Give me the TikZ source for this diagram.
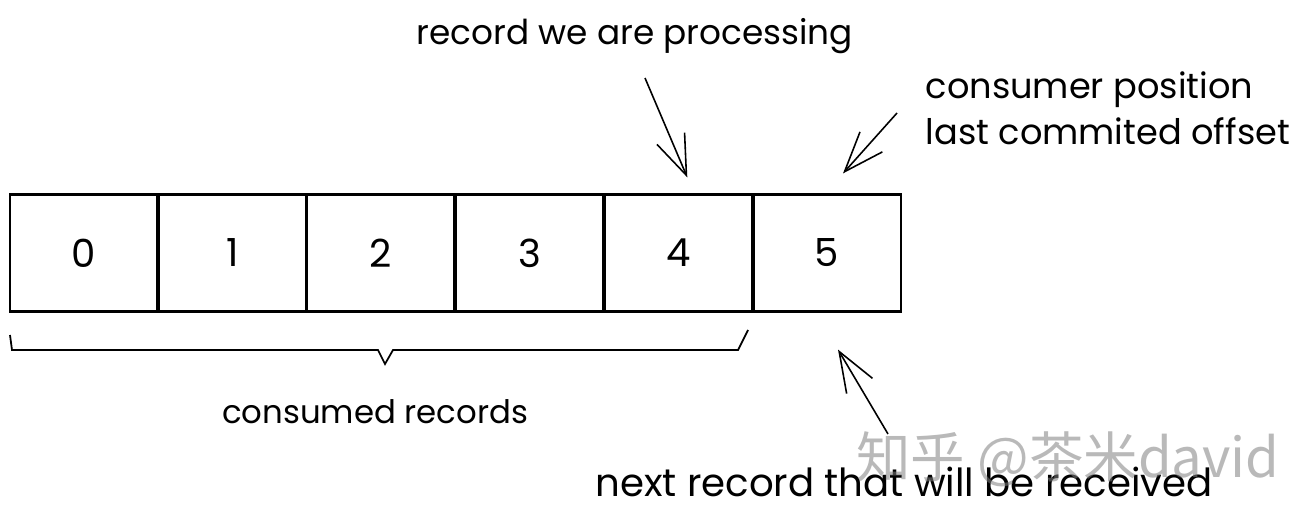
\documentclass[tikz,border=0pt]{standalone}
\usepackage{fontspec}
\setmainfont{Poppins}
\newfontfamily\cjkfont{Noto Sans CJK SC}
\usetikzlibrary{arrows.meta,positioning}

\tikzset{
  recbox/.style={draw, line width=0.6pt, minimum width=1.47cm, minimum height=1.17cm,
    inner sep=0pt, font=\fontsize{11}{13}\selectfont},
  note/.style={font=\fontsize{10}{13}\selectfont, inner sep=0pt},
  pointer/.style={line width=0.45pt, -{Straight Barb[length=0.4cm,width=0.3cm]}},
}

\begin{document}
\begin{tikzpicture}[x=0.01cm, y=-0.01cm]
  \useasboundingbox (0,0) rectangle (1310,515);
  % the partition
  \foreach \i in {0,...,5}
    \node[recbox] (rec\i) at ({83.5+148.7*\i},253) {\i};

  % texts
  \node[note, font=\fontsize{9.75}{13}\selectfont] (processing) at (635,36) {record we are processing};
  \node[note, align=left, anchor=west] (position) at (925,108) {consumer position\\last commited offset};
  \node[note, font=\fontsize{9.2}{13}\selectfont] (consumed) at (375,412) {consumed records};
  \node[note, font=\fontsize{11}{13}\selectfont] (received) at (904,482) {next record that will be received};

  % pointers
  \coordinate (processing-tail) at (645,78);
  \coordinate (position-tail) at (897,113);
  \coordinate (received-tail) at (888,434);
  \draw[pointer] (processing-tail) -- ([shift={(9,-16)}]rec4.north);
  \draw[pointer] (position-tail) -- ([shift={(16,-20)}]rec5.north);
  \draw[pointer] (received-tail) -- ([shift={(11,37)}]rec5.south);

  % brace under 0..4
  \draw[line width=0.5pt] (10,335) -- (12,350) -- (378,350) -- (385,364)
    -- (393,350) -- (738,350) -- (748,330);

  \node[font=\cjkfont\fontsize{15.5}{17}\selectfont, text=gray, text opacity=0.55] (mark) at (1068,459) {知乎 @茶米david};
\end{tikzpicture}
\end{document}
